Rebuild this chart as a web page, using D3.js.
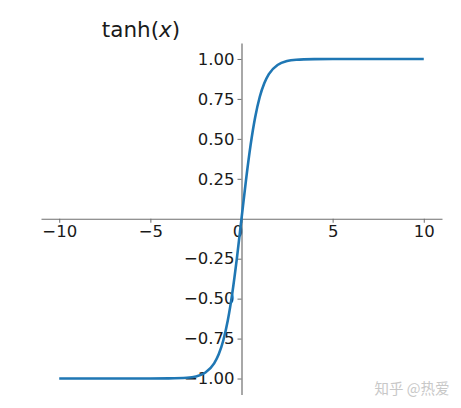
<!DOCTYPE html>
<html><head><meta charset="utf-8">
<script src="https://cdn.jsdelivr.net/npm/d3@7"></script>
<style>
html,body{margin:0;padding:0;background:#fff;}
svg{display:block;}
</style></head>
<body>
<svg id="c" width="461" height="408"></svg>
<script>
const xValues = [-10, -5, -4, -3, -2.5, -2, -1.5, -1.25, -1, -0.75, -0.5, -0.25, 0, 0.25, 0.5, 0.75, 1, 1.25, 1.5, 2, 2.5, 3, 4, 5, 10];
const yValues = [-1, -1, -0.999, -0.995, -0.987, -0.964, -0.905, -0.848, -0.762, -0.635, -0.462, -0.245, 0, 0.245, 0.462, 0.635, 0.762, 0.848, 0.905, 0.964, 0.987, 0.995, 0.999, 1, 1];
const xTicks = [-10, -5, 0, 5, 10];
const yTicksPos = [0.25, 0.5, 0.75, 1.0];
const yTicksNeg = [-1.0, -0.75, -0.5, -0.25];
const titleText = "tanh";
const watermark = "知乎 @热爱";

const svg = d3.select("#c");
const x = d3.scaleLinear().domain([-11, 11]).range([41, 442]);
const y = d3.scaleLinear().domain([-1.1, 1.1]).range([394.5, 43]);
const font = "'DejaVu Sans', sans-serif";
const axisColor = "#6e6e6e";
const fmt = d => d === 0 ? "0" : d3.format(".2f")(d).replace("-", "\u2212");
const fmtX = d => String(d).replace("-", "\u2212");

// x axis at y=0
const xAxis = d3.axisBottom(x).tickValues(xTicks).tickSizeInner(4).tickSizeOuter(0).tickPadding(3).tickFormat(fmtX);
const gx = svg.append("g").attr("transform", `translate(0,${y(0)})`).call(xAxis);
gx.select(".domain").attr("stroke", axisColor).attr("stroke-width", 1.2);
gx.selectAll(".tick line").attr("stroke", axisColor);
gx.selectAll(".tick text").attr("font-family", font).attr("font-size", 16.5).attr("fill", "#1a1a1a");
gx.selectAll(".tick").filter(d => d === 0).select("text").attr("dx", -4);

// y axis at x=0
const yAxis = d3.axisLeft(y).tickValues(yTicksNeg.concat(yTicksPos)).tickSizeInner(4).tickSizeOuter(0).tickPadding(3).tickFormat(fmt);
const gy = svg.append("g").attr("transform", `translate(${x(0)},0)`).call(yAxis);
gy.select(".domain").attr("stroke", axisColor).attr("stroke-width", 1.2);
gy.selectAll(".tick line").attr("stroke", axisColor);
gy.selectAll(".tick text").attr("font-family", font).attr("font-size", 16.5).attr("fill", "#1a1a1a");

// curve
const pts = xValues.map((v, i) => [v, yValues[i]]);
svg.append("path").datum(pts)
  .attr("fill", "none").attr("stroke", "#1f77b4").attr("stroke-width", 2.6)
  .attr("stroke-linejoin", "round").attr("stroke-linecap", "butt")
  .attr("d", d3.line().x(d => x(d[0])).y(d => y(d[1])).curve(d3.curveMonotoneX));

// title
const t = svg.append("text").attr("x", 141).attr("y", 37).attr("text-anchor", "middle")
  .attr("font-family", font).attr("font-size", 21.5).attr("fill", "#1a1a1a");
t.append("tspan").text(titleText + "(");
t.append("tspan").attr("font-style", "italic").text("x");
t.append("tspan").text(")");

// watermark
svg.append("text").attr("x", 412).attr("y", 394).attr("text-anchor", "middle")
  .attr("font-family", "'Noto Sans CJK SC', sans-serif").attr("font-size", 14.5)
  .attr("fill", "#c8c8c8").text(watermark);
</script>
</body></html>
